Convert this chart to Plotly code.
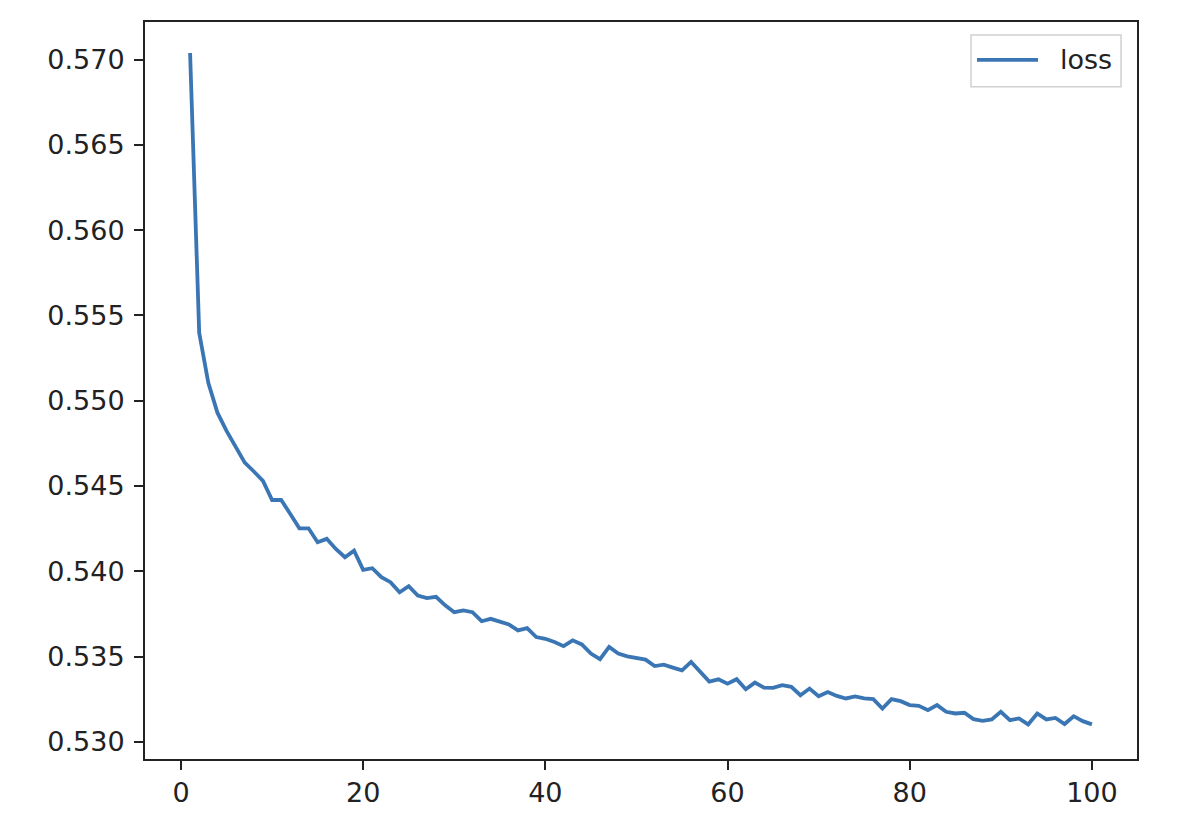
import plotly.graph_objects as go

# loss per epoch
epochs = list(range(1, 101))
loss = [
    0.57039, 0.55398, 0.55105, 0.54930, 0.54823, 0.54725, 0.54637, 0.54585, 0.54530, 0.54418,
    0.54418, 0.54336, 0.54252, 0.54252, 0.54170, 0.54190, 0.54131, 0.54082, 0.54121, 0.54008,
    0.54018, 0.53965, 0.53936, 0.53877, 0.53912, 0.53858, 0.53843, 0.53850, 0.53800, 0.53760,
    0.53770, 0.53760, 0.53707, 0.53721, 0.53702, 0.53688, 0.53653, 0.53667, 0.53614, 0.53604,
    0.53585, 0.53561, 0.53595, 0.53571, 0.53517, 0.53484, 0.53556, 0.53517, 0.53501, 0.53491,
    0.53482, 0.53444, 0.53452, 0.53435, 0.53419, 0.53468, 0.53414, 0.53353, 0.53366, 0.53341,
    0.53367, 0.53308, 0.53347, 0.53318, 0.53316, 0.53332, 0.53322, 0.53273, 0.53312, 0.53267,
    0.53292, 0.53269, 0.53254, 0.53266, 0.53254, 0.53250, 0.53195, 0.53250, 0.53238, 0.53215,
    0.53211, 0.53185, 0.53215, 0.53176, 0.53166, 0.53170, 0.53133, 0.53123, 0.53131, 0.53176,
    0.53127, 0.53137, 0.53102, 0.53166, 0.53131, 0.53140, 0.53104, 0.53150, 0.53121, 0.53102,
]

x_ticks = [0, 20, 40, 60, 80, 100]
y_ticks = [0.530, 0.535, 0.540, 0.545, 0.550, 0.555, 0.560, 0.565, 0.570]

line_color = "#3b76b4"
ink = "#222"

fig = go.Figure()
fig.add_trace(go.Scatter(x=epochs, y=loss, mode="lines", name="loss", showlegend=False,
                         line=dict(color=line_color, width=3.8)))

axis_style = dict(
    showline=True, mirror=True, linecolor=ink, linewidth=2,
    ticks="outside", ticklen=9, tickwidth=2, tickcolor=ink,
    showgrid=False, zeroline=False,
    tickfont=dict(family="DejaVu Sans", size=27, color=ink),
)

fig.update_xaxes(range=[-3.95, 104.95], tickvals=x_ticks, ticklabelstandoff=0, **axis_style)
fig.update_yaxes(range=[0.52899, 0.57221], tickvals=y_ticks, tickformat=".3f",
                 ticklabelstandoff=4, **axis_style)

# matplotlib-style legend box in the upper right corner
fig.add_shape(type="rect", xref="paper", yref="paper",
              x0=0.8327, x1=0.9839, y0=0.9120, y1=0.9824,
              line=dict(color="#d0d0d0", width=1.5), fillcolor="white")
fig.add_shape(type="line", xref="paper", yref="paper",
              x0=0.8387, x1=0.9002, y0=0.9486, y1=0.9486,
              line=dict(color=line_color, width=3.8))
fig.add_annotation(text="loss", xref="paper", yref="paper", x=0.9204, y=0.9486,
                   xanchor="left", yanchor="middle", showarrow=False,
                   font=dict(family="DejaVu Sans", size=27, color=ink))

fig.update_layout(
    width=1196, height=826,
    margin=dict(l=137, r=67, t=12, b=75),
    paper_bgcolor="white", plot_bgcolor="white",
)

fig.write_html("out.html")
